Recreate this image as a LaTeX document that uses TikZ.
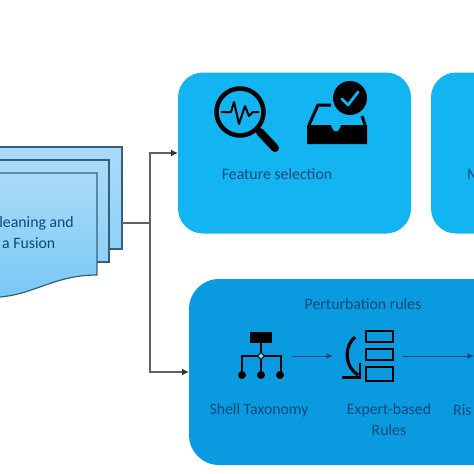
\documentclass[tikz,border=0pt]{standalone}
\usepackage{fontspec}
\setmainfont{Carlito}
\usetikzlibrary{arrows.meta,calc}
\definecolor{boxa}{HTML}{12B4F1}
\definecolor{boxb}{HTML}{0A9AE0}
\definecolor{ink}{HTML}{0C4A78}
\definecolor{docline}{HTML}{34607E}
\definecolor{conn}{HTML}{606060}
\definecolor{doctop}{HTML}{A9DBF8}
\definecolor{docbot}{HTML}{8FD2F7}
\definecolor{docend}{HTML}{79C9F4}
\tikzset{
  panel/.style={rectangle,anchor=north west,inner sep=0pt,outer sep=0pt},
  lab/.style={text=ink,font=\fontsize{15.8}{18}\selectfont,inner sep=0pt},
  sheet/.style={draw=docline,line width=1.2pt,top color=doctop,bottom color=docbot},
  flow/.style={draw=conn,line width=1.2pt,-{Latex[length=7pt,width=7pt,color=black!80]}},
  inner/.style={draw=ink,line width=.9pt,-{Latex[length=6.5pt,width=6pt]}},
  ico/.style={draw=black,line width=2.6pt},
  pin/.style={inner sep=0pt,outer sep=0pt,minimum size=0pt},
}
\begin{document}
\begin{tikzpicture}[x=1pt,y=-1pt]
\useasboundingbox (0,0) rectangle (474,474);
\clip (0,0) rectangle (474,474);
\fill[white] (0,0) rectangle (474,474);
% panels
\node[panel,fill=boxa,rounded corners=25pt,minimum width=233pt,minimum height=161pt] (fs) at (178,72.5) {};
\node[panel,fill=boxa,rounded corners=25pt,minimum width=100pt,minimum height=161pt] (mm) at (431,72.5) {};
\node[panel,fill=boxb,rounded corners=30pt,minimum width=340pt,minimum height=186pt] (pr) at (189,279) {};
% document stack
\draw[sheet] (-5,147) -- (122,147) -- (122,249) -- (90,249) -- (90,200) -- (-5,200) -- cycle;
\draw[sheet] (-5,160) -- (109,160) -- (109,262) -- (90,262) -- (90,210) -- (-5,210) -- cycle;
\path[draw=docline,line width=1.2pt,top color=doctop,bottom color=docend]
  (-5,173) -- (97,173) -- (97,275) .. controls (55,275) and (35,294) .. (0,297) -- (-5,297) -- cycle;
\node[lab,anchor=east] (t1) at (74,223) {leaning and};
\node[lab,anchor=east] (t2) at (55.5,243) {a Fusion};
% connectors
\coordinate (src) at (122,223);
\coordinate (jn) at (150,223);
\draw[draw=conn,line width=1.2pt] (src) -- (jn);
\draw[flow] (jn) |- (fs.west |- 0,153);
\draw[flow] (jn) |- (pr.west |- 0,372);
% magnifier
\draw[black,line width=4.5pt] (240,112) circle (23.5);
\draw[black,line width=8pt,line cap=round] (260,132) -- (275,148);
\draw[black,line width=2pt,line join=round] (221,112) -- (231,112) -- (234,102) -- (239,124) -- (245,106) -- (249,116) -- (253,112) -- (259,112);
% tray
\fill[black] (307,144) -- (367,144) -- (367,125) -- (341,125) .. controls (339,134) and (333,134) .. (331,125) -- (307,125) -- cycle;
\draw[black,line width=3pt] (309,125) -- (318,105) -- (331,105);
\draw[black,line width=3pt] (362,116) -- (365,125);
\fill[black] (350,98) circle (17);
\draw[boxa,line width=2.8pt,line cap=round,line join=round] (342,99) -- (348,105) -- (358,92);
% org chart
\fill[black] (250,332) rectangle (272,343);
\draw[black,line width=1.8pt] (261,343) -- (261,372);
\draw[black,line width=1.8pt] (242,372) -- (242,356) -- (281,356) -- (281,372);
\fill[black] (242,375) circle (4) (261,375) circle (4) (280,375) circle (4);
\draw[black,fill=cyan!50!white,line width=1pt] (261,352.5) -- (264.5,356) -- (261,359.5) -- (257.5,356) -- cycle;
\node[pin] (org) at (292,356) {};
% rules icon
\draw[ico] (366,331) rectangle (393,342);
\draw[ico] (366,349) rectangle (393,360);
\draw[ico] (366,367) rectangle (393,381);
\draw[black,line width=3.2pt] (355,337) .. controls (345,345) and (343,365) .. (358,375);
\draw[black,line width=2.8pt,line join=miter] (342,377.5) -- (360,377.5) -- (360,363);
\node[pin] (rl) at (333,356) {};
\node[pin] (rr) at (403,356) {};
\node[pin] (risk) at (474,356) {};
\draw[inner] (org) -- (rl);
\draw[inner] (rr) -- (risk);
% labels
\node[lab] (a) at (277,174) {Feature selection};
\node[lab,anchor=west] (b) at (467,174) {M};
\node[lab] (c) at (363,304) {Perturbation rules};
\node[lab] (d) at (259,410) {Shell Taxonomy};
\node[lab] (e) at (389,410) {Expert-based};
\node[lab] (f) at (389,430) {Rules};
\node[lab,anchor=west] (g) at (453,410) {Ris};
\end{tikzpicture}
\end{document}
